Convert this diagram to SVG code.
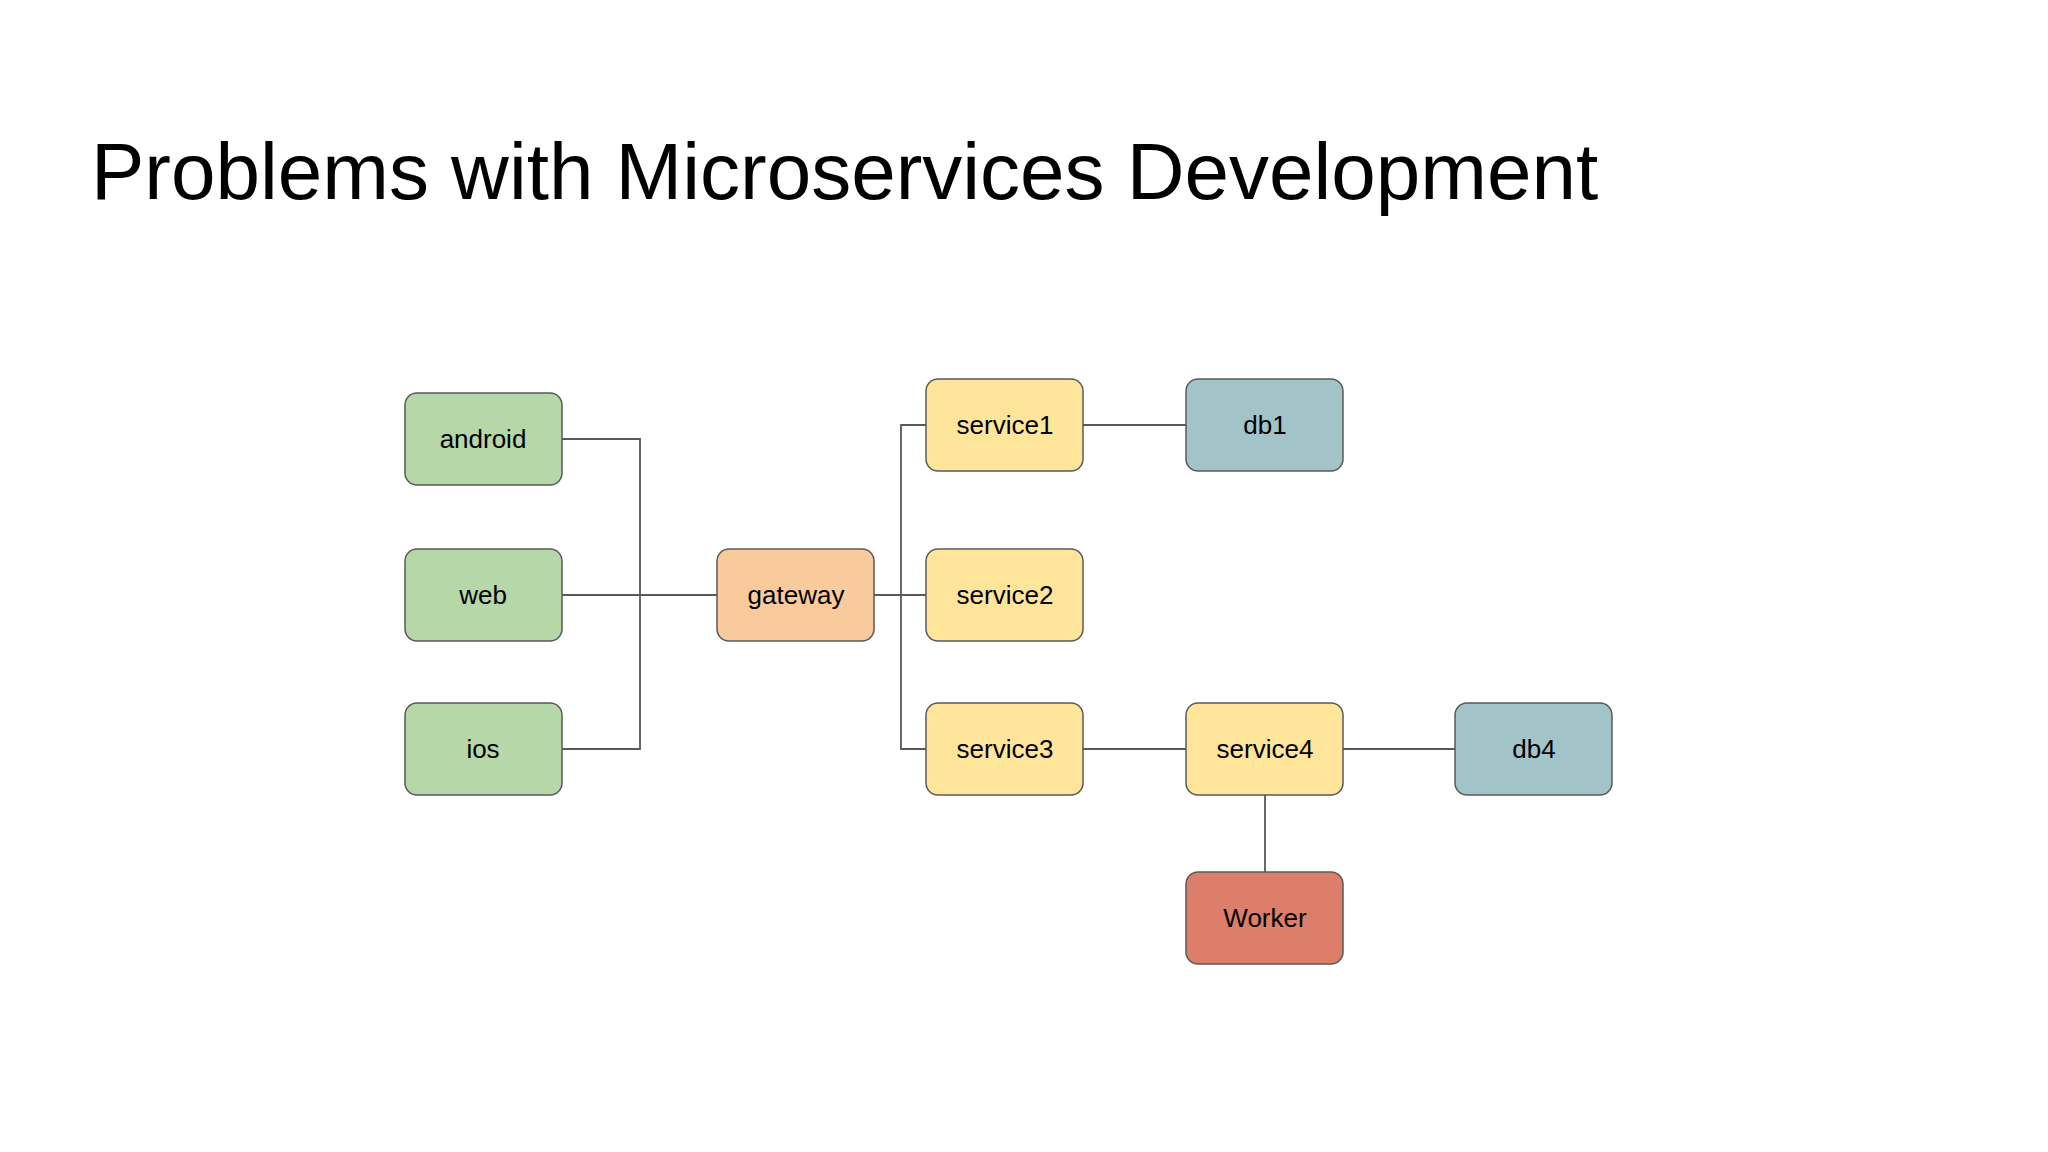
<svg xmlns="http://www.w3.org/2000/svg" width="2048" height="1152" viewBox="0 0 2048 1152">
<style>
.n rect{stroke:#595959;stroke-width:1.5}
.n text{font-family:"Liberation Sans",Arial,sans-serif;font-size:26px;fill:#000;text-anchor:middle;dominant-baseline:central}
.g{fill:#b6d7a8}.o{fill:#f9cb9c}.y{fill:#ffe599}.b{fill:#a2c4c9}.r{fill:#dd7e6b}
#connectors path{fill:none;stroke:#595959;stroke-width:1.8}
</style>
<rect width="2048" height="1152" fill="#fff"/>
<text x="91" y="199" font-family="Liberation Sans,Arial,sans-serif" font-size="80" fill="#000">Problems with Microservices Development</text>
<g id="connectors">
<path d="M562 439H640V749H562"/>
<path d="M562 595H717"/>
<path d="M874 595H926"/>
<path d="M926 425H901V749H926"/>
<path d="M1083 425H1186"/>
<path d="M1083 749H1186"/>
<path d="M1343 749H1455"/>
<path d="M1265 795V872"/>
</g>
<g id="android" class="n"><rect class="g" x="405" y="393" width="157" height="92" rx="12"/><text x="483" y="439">android</text></g>
<g id="web" class="n"><rect class="g" x="405" y="549" width="157" height="92" rx="12"/><text x="483" y="595">web</text></g>
<g id="ios" class="n"><rect class="g" x="405" y="703" width="157" height="92" rx="12"/><text x="483" y="749">ios</text></g>
<g id="gateway" class="n"><rect class="o" x="717" y="549" width="157" height="92" rx="12"/><text x="796" y="595">gateway</text></g>
<g id="service1" class="n"><rect class="y" x="926" y="379" width="157" height="92" rx="12"/><text x="1005" y="425">service1</text></g>
<g id="service2" class="n"><rect class="y" x="926" y="549" width="157" height="92" rx="12"/><text x="1005" y="595">service2</text></g>
<g id="service3" class="n"><rect class="y" x="926" y="703" width="157" height="92" rx="12"/><text x="1005" y="749">service3</text></g>
<g id="db1" class="n"><rect class="b" x="1186" y="379" width="157" height="92" rx="12"/><text x="1265" y="425">db1</text></g>
<g id="service4" class="n"><rect class="y" x="1186" y="703" width="157" height="92" rx="12"/><text x="1265" y="749">service4</text></g>
<g id="db4" class="n"><rect class="b" x="1455" y="703" width="157" height="92" rx="12"/><text x="1534" y="749">db4</text></g>
<g id="worker" class="n"><rect class="r" x="1186" y="872" width="157" height="92" rx="12"/><text x="1265" y="918">Worker</text></g>
</svg>
